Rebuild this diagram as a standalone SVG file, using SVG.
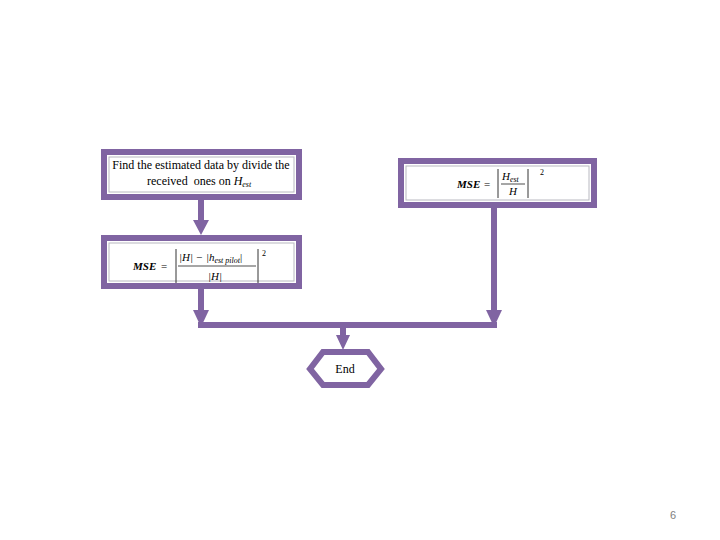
<svg xmlns="http://www.w3.org/2000/svg" width="720" height="540" viewBox="0 0 720 540">
<style>
.box{fill:#fff;stroke:#8064a2;stroke-width:6}
.inner{fill:none;stroke:#b8b8c0;stroke-width:1}
.ln{fill:none;stroke:#8064a2;stroke-width:6}
.head{fill:#8064a2}
.t{font-family:"Liberation Serif",serif;font-size:12px;fill:#000}
.m{font-family:"Liberation Serif",serif;font-size:11px;fill:#000;font-style:italic}
.s{font-family:"Liberation Serif",serif;font-size:8px;fill:#000;font-style:italic}
.sup{font-family:"Liberation Serif",serif;font-size:8px;fill:#000}
.r{font-family:"Liberation Serif",serif;font-size:11px;fill:#000}
.bar{stroke:#000;stroke-width:0.8}
</style>
<rect width="720" height="540" fill="#fff"/>
<g id="connectors">
<line class="ln" x1="201" y1="200" x2="201" y2="222"/>
<polygon class="head" points="193,220 209,220 201,235"/>
<line class="ln" x1="201" y1="289" x2="201" y2="312"/>
<polygon class="head" points="193,310 209,310 201,327"/>
<line class="ln" x1="494" y1="208" x2="494" y2="312"/>
<polygon class="head" points="486,310 502,310 494,327"/>
<line class="ln" x1="198" y1="325" x2="497" y2="325"/>
<line class="ln" x1="343" y1="325" x2="343" y2="338"/>
<polygon class="head" points="336,335 350,335 343,350"/>
</g>
<g id="node-find">
<rect class="box" x="104" y="152" width="195" height="45"/>
<rect class="inner" x="109" y="157" width="185" height="35"/>
<text class="t" x="201" y="169" text-anchor="middle">Find the estimated data by divide the</text>
<text class="t" x="147" y="185" xml:space="preserve">received  ones on <tspan font-style="italic">H</tspan><tspan font-style="italic" font-size="8" dy="2">est</tspan></text>
</g>
<g id="node-mse-right">
<rect class="box" x="401" y="161" width="193" height="44"/>
<rect class="inner" x="406" y="166" width="183" height="34"/>
<text class="m" x="457" y="188" font-weight="bold">MSE</text>
<text class="r" x="484" y="188">=</text>
<line class="bar" x1="498" y1="169" x2="498" y2="198"/>
<line class="bar" x1="528" y1="169" x2="528" y2="198"/>
<text class="m" x="502" y="180">H<tspan class="s" dy="2">est</tspan></text>
<line x1="501" y1="184" x2="525" y2="184" stroke="#000" stroke-width="0.7"/>
<text class="m" x="509" y="195">H</text>
<text class="sup" x="540" y="175">2</text>
</g>
<g id="node-mse-left">
<rect class="box" x="104" y="238" width="195" height="48"/>
<rect class="inner" x="109" y="243" width="185" height="38"/>
<text class="m" x="133" y="270" font-weight="bold">MSE</text>
<text class="r" x="161" y="270">=</text>
<line class="bar" x1="176" y1="249" x2="176" y2="283"/>
<line class="bar" x1="258" y1="249" x2="258" y2="283"/>
<text class="m" x="179" y="261" font-size="12">|H| − |h<tspan class="s" dy="2">est pilot</tspan><tspan dy="-2" font-style="normal">|</tspan></text>
<line x1="178" y1="266" x2="256" y2="266" stroke="#000" stroke-width="0.7"/>
<text class="m" x="208" y="280" font-size="12">|H|</text>
<text class="sup" x="262" y="256">2</text>
</g>
<g id="node-end">
<polygon points="323,352 368,352 381,369 368,385 323,385 310,369" fill="#fff" stroke="#8064a2" stroke-width="6"/>
<text class="t" x="345" y="373" text-anchor="middle">End</text>
</g>
<text x="673" y="519" font-family="Liberation Sans, sans-serif" font-size="11" fill="#808080" text-anchor="middle">6</text>
</svg>
